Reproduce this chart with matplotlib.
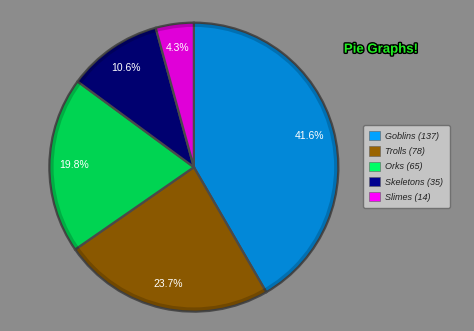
import matplotlib.pyplot as plt
import matplotlib.patheffects as pe

plt.rcParams['font.family'] = ['Liberation Sans', 'DejaVu Sans']

# data
names = ['Goblins', 'Trolls', 'Orks', 'Skeletons', 'Slimes']
counts = [137, 78, 65, 35, 14]
slice_colors = ['#0288d8', '#8a5800', '#00d452', '#000070', '#e000d8']
legend_colors = ['#00a2ff', '#9a6400', '#00ff66', '#000090', '#ff00ff']

bg = '#8c8c8c'
fig = plt.figure(figsize=(4.74, 3.31), dpi=100, facecolor=bg)

# pie axes placed so the circle sits left of centre
ax = fig.add_axes([0.101, 0.054, 0.616, 0.882])
ax.set_facecolor(bg)
wedges, texts, autotexts = ax.pie(
    counts, colors=slice_colors, startangle=90, counterclock=False,
    autopct='%.1f%%', pctdistance=0.83, radius=1,
    wedgeprops=dict(edgecolor='#4a4a4a', linewidth=1.6),
    textprops=dict(color='white', fontsize=7.5))
# soft dark rim like the reference's inner shadow
ax.add_patch(plt.Circle((0, 0), 0.985, fill=False, edgecolor='black', linewidth=3, alpha=0.18))
ax.set_xlim(-1.01, 1.01)
ax.set_ylim(-1.01, 1.01)
ax.set_aspect('equal')
ax.axis('off')

# legend on the right
handles = [plt.Rectangle((0, 0), 1, 1, facecolor=c, edgecolor='#606060', linewidth=0.4)
           for c in legend_colors]
labels = [f'{n} ({v})' for n, v in zip(names, counts)]
leg = fig.legend(handles, labels, loc='upper left', bbox_to_anchor=(0.766, 0.623),
                 prop=dict(style='italic', size=6.5), frameon=True, fancybox=True,
                 handlelength=1.2, handleheight=1.2, handletextpad=0.55,
                 labelspacing=0.62, borderpad=0.7, borderaxespad=0)
leg.get_frame().set_facecolor('#c4c4c4')
leg.get_frame().set_edgecolor('#707070')
leg.get_frame().set_alpha(1)
for t in leg.get_texts():
    t.set_color('#222222')

# title
fig.text(0.804, 0.85, 'Pie Graphs!', color='#22ee22', fontsize=9.5, fontweight='bold',
         ha='center', va='center',
         path_effects=[pe.withStroke(linewidth=2, foreground='black')])

fig.savefig('out.png', dpi=100, facecolor=bg)
